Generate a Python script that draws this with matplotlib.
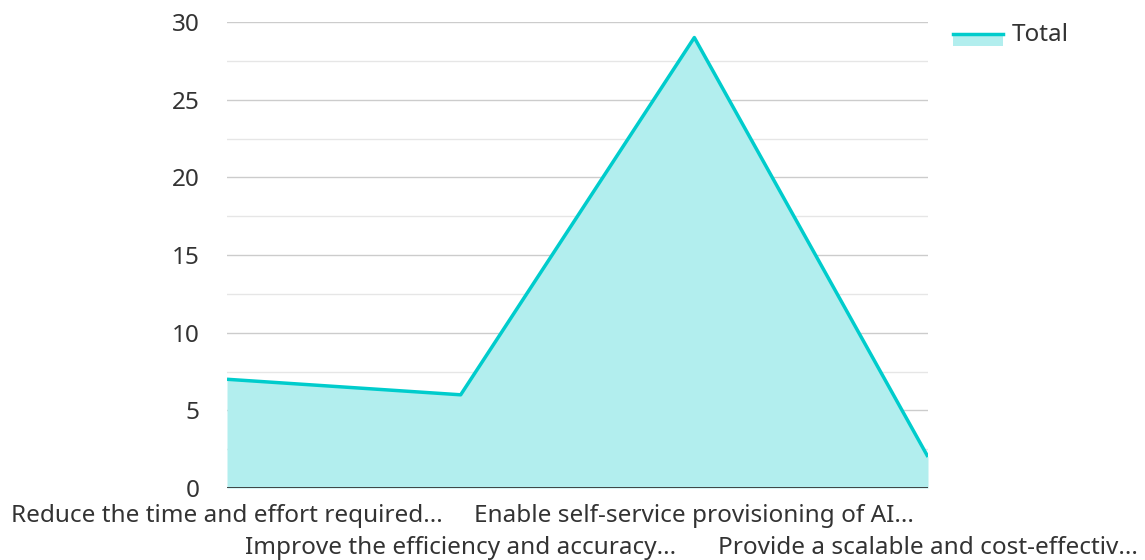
import matplotlib.pyplot as plt
from matplotlib.patches import Rectangle
from matplotlib.lines import Line2D

plt.rcParams['font.family'] = ['Noto Sans', 'DejaVu Sans']

categories = [
    "Reduce the time and effort required...",
    "Improve the efficiency and accuracy...",
    "Enable self-service provisioning of AI...",
    "Provide a scalable and cost-effectiv...",
]
totals = [7, 6, 29, 2]
y_ticks = [0, 5, 10, 15, 20, 25, 30]

line_color = "#00cccc"
fill_color = "#b2eeee"
text_color = "#333333"
fs = 17.5

fig = plt.figure(figsize=(11.45, 5.6), dpi=100)
ax = fig.add_axes([227 / 1145, 72 / 560, 701 / 1145, 466 / 560])

x = list(range(len(totals)))
ax.fill_between(x, totals, 0, color=fill_color, linewidth=0, zorder=2)
ax.plot(x, totals, color=line_color, linewidth=2.5, zorder=3, solid_capstyle='butt')

ax.set_xlim(0, len(totals) - 1)
ax.set_ylim(0, 30)

# gridlines: major every 5, minor in between
for v in y_ticks:
    ax.axhline(v, color="#cccccc", linewidth=1, zorder=1)
for v in [2.5, 7.5, 12.5, 17.5, 22.5, 27.5]:
    ax.axhline(v, color="#e6e6e6", linewidth=1, zorder=1)
ax.axhline(0, color="#333333", linewidth=2, zorder=4)

ax.set_yticks(y_ticks)
ax.set_yticklabels([str(v) for v in y_ticks], fontsize=fs, color=text_color)
ax.tick_params(axis='y', length=0, pad=19.5)

ax.set_xticks([])
for i, cat in enumerate(categories):
    offset = -28 if i % 2 == 0 else -60
    ax.annotate(cat, xy=(i, 0), xycoords='data', xytext=(0, offset),
                textcoords='offset pixels', ha='center', va='center',
                fontsize=fs, color=text_color, annotation_clip=False)

for s in ax.spines.values():
    s.set_visible(False)

# legend (area swatch with line on top)
fig.add_artist(Rectangle((953 / 1145, 1 - 46 / 560), 50 / 1145, 13 / 560,
                         transform=fig.transFigure, facecolor=fill_color,
                         edgecolor='none'))
fig.add_artist(Line2D([953 / 1145, 1003 / 1145], [1 - 33.5 / 560, 1 - 33.5 / 560],
                      transform=fig.transFigure, color=line_color, linewidth=2.5))
fig.text(1012 / 1145, 1 - 35 / 560, "Total", ha='left', va='center',
         fontsize=fs, color=text_color)

fig.savefig("out.png", dpi=100, facecolor="white")
